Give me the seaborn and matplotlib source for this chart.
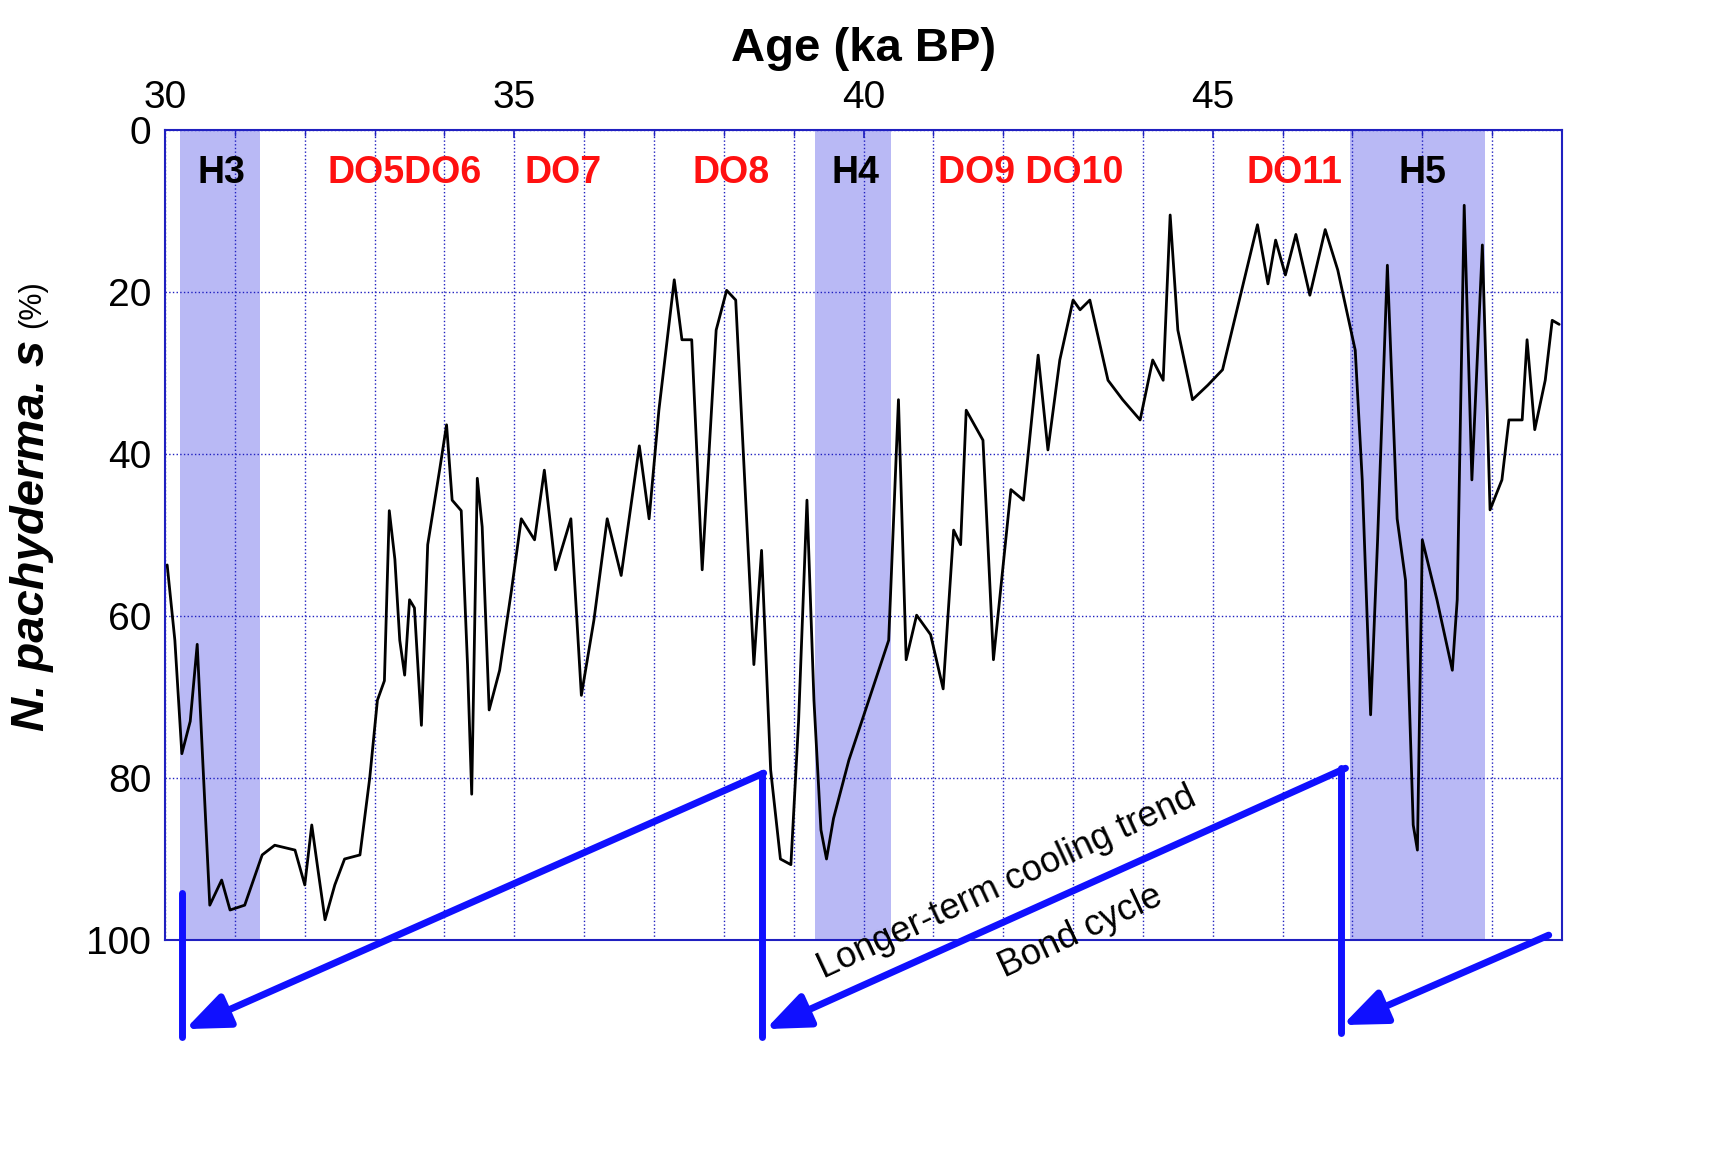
import numpy as np
import matplotlib
matplotlib.use('Agg')
import matplotlib.pyplot as plt
import seaborn as sns

# data
age = [30.03, 30.14, 30.24, 30.36, 30.46, 30.54, 30.64, 30.81, 30.93, 31.14, 31.39, 31.57, 31.86, 32.0,
       32.1, 32.19, 32.29, 32.43, 32.57, 32.79, 32.93, 33.04, 33.14, 33.21, 33.29, 33.36, 33.43, 33.5,
       33.57, 33.67, 33.76, 33.93, 34.03, 34.11, 34.24, 34.33, 34.39, 34.47, 34.54, 34.64, 34.79, 34.96,
       35.1, 35.29, 35.43, 35.59, 35.81, 35.96, 36.14, 36.33, 36.53, 36.79, 36.93, 37.07, 37.29, 37.4,
       37.54, 37.69, 37.89, 38.04, 38.17, 38.43, 38.54, 38.67, 38.81, 38.96, 39.07, 39.19, 39.29, 39.39,
       39.47, 39.57, 39.79, 40.36, 40.5, 40.61, 40.76, 40.96, 41.14, 41.29, 41.39, 41.47, 41.71, 41.86,
       42.11, 42.29, 42.5, 42.64, 42.81, 43.0, 43.1, 43.24, 43.5, 43.71, 43.96, 44.14, 44.29, 44.39,
       44.5, 44.71, 44.93, 45.14, 45.64, 45.79, 45.9, 46.04, 46.19, 46.39, 46.61, 46.79, 47.04, 47.14,
       47.26, 47.36, 47.5, 47.64, 47.76, 47.87, 47.93, 48.0, 48.21, 48.43, 48.5, 48.6, 48.71, 48.86,
       48.97, 49.14, 49.24, 49.43, 49.5, 49.61, 49.76, 49.86, 49.96]
npsin = [53.7, 63, 77, 73, 63.5, 78, 95.7, 92.6, 96.3, 95.7, 89.5, 88.3, 88.9, 93.2,
         85.8, 91.4, 97.5, 93.2, 90, 89.5, 80, 70.4, 68, 47, 53, 63, 67.3, 58,
         59, 73.5, 51.2, 42, 36.4, 45.7, 47, 66, 82, 43, 49, 71.6, 66.7, 56.8,
         48, 50.6, 42, 54.3, 48, 69.8, 60.5, 48, 55, 39, 48, 34.6, 18.5, 25.9,
         25.9, 54.3, 24.7, 19.8, 21, 66, 51.9, 79, 90, 90.7, 73, 45.7, 70.4, 86.4,
         90, 85, 77.8, 63, 33.3, 65.4, 59.9, 62.3, 69, 49.4, 51.2, 34.6, 38.3, 65.4,
         44.4, 45.7, 27.8, 39.5, 28.4, 21, 22.2, 21, 30.9, 33.3, 35.8, 28.4, 30.9, 10.5,
         24.7, 33.3, 31.5, 29.6, 11.7, 19, 13.6, 17.9, 12.9, 20.4, 12.3, 17.3, 27.2, 43.2,
         72.2, 50.6, 16.7, 48, 55.6, 85.8, 88.9, 50.6, 58, 66.7, 58, 9.3, 43.2, 14.2,
         46.9, 43.2, 35.8, 35.8, 25.9, 37, 30.9, 23.5, 24]

# stadial bands (start, end)
bands = [(30.21, 31.36), (39.31, 40.39), (46.96, 48.9)]
event_labels = ['H3', 'DO5DO6', 'DO7', 'DO8', 'H4', 'DO9 DO10', 'DO11', 'H5']
event_x = [30.81, 33.43, 35.7, 38.1, 39.89, 42.4, 46.17, 48.0]
event_red = [False, True, True, True, False, True, True, False]

# Bond cycle sawtooth
drops = [(30.24, 94.2, 112), (38.54, 79.4, 112), (46.83, 78.8, 111.5)]
arrows = [((38.57, 79.4), (30.29, 111)), ((46.9, 78.8), (38.6, 111)), ((49.81, 99.4), (46.86, 110.5))]

sns.set_theme(style='white')
plt.rcParams['font.family'] = ['Liberation Sans', 'DejaVu Sans']
plt.rcParams['text.color'] = 'black'

fig = plt.figure(figsize=(17.25, 11.49), dpi=100)
ax = fig.add_axes([0.0957, 0.1819, 0.8098, 0.705])

for a, b in bands:
    ax.axvspan(a, b, color='#b9b9f5', lw=0, zorder=0)

sns.lineplot(x=age, y=npsin, ax=ax, color='black', lw=2, sort=False, zorder=3)

ax.set_xlim(30, 50)
ax.set_ylim(100, 0)
ax.set_xticks(range(30, 50, 5))
ax.set_xticks(range(30, 50), minor=True)
ax.set_yticks(range(0, 101, 20))
ax.xaxis.tick_top()
ax.xaxis.set_label_position('top')
ax.grid(True, which='both', axis='x', color='#2020c0', ls=':', lw=1)
ax.grid(True, which='major', axis='y', color='#2020c0', ls=':', lw=1)
ax.tick_params(axis='both', which='major', labelsize=28, direction='in', colors='#2020c0',
               labelcolor='black', length=6, pad=10)
ax.tick_params(axis='x', which='minor', direction='in', colors='#2020c0', length=4)
for s in ax.spines.values():
    s.set_color('#2020c0')
    s.set_linewidth(1.5)
ax.set_xlabel('Age (ka BP)', fontsize=34, fontweight='bold', labelpad=14, color='black')
ax.set_ylabel('')

ax.text(-0.095, 0.5, 'N. pachyderma. s', transform=ax.transAxes, rotation=90, fontsize=34,
        fontweight='bold', style='italic', ha='center', va='center')
ax.text(-0.095, 0.785, '(%)', transform=ax.transAxes, rotation=90, fontsize=22,
        ha='center', va='center')

for lab, x, red in zip(event_labels, event_x, event_red):
    ax.text(x, 5.3, lab, fontsize=27, fontweight='bold', ha='center', va='center',
            color='#ff1010' if red else 'black', zorder=4)

for x, y0, y1 in drops:
    ax.plot([x, x], [y0, y1], color='#1010ff', lw=5, clip_on=False, zorder=5)
for (x0, y0), (x1, y1) in arrows:
    ax.annotate('', xy=(x1, y1), xytext=(x0, y0), annotation_clip=False,
                arrowprops=dict(arrowstyle='-|>,head_length=2.2,head_width=0.9',
                                color='#1010ff', lw=5, shrinkA=0, shrinkB=0), zorder=5)

ax.text(42.05, 93.0, 'Longer-term cooling trend', rotation=25, fontsize=26,
        ha='center', va='center', zorder=6)
ax.text(43.1, 99.0, 'Bond cycle', rotation=25, fontsize=26, ha='center', va='center', zorder=6)

fig.savefig('out.png', dpi=100)
